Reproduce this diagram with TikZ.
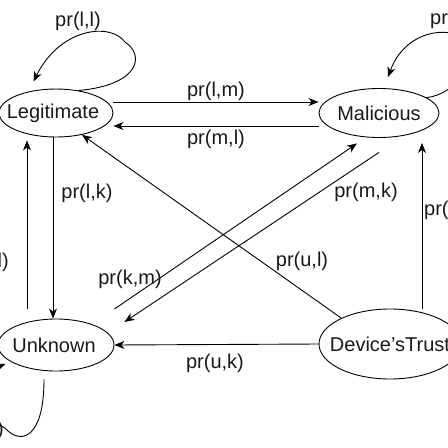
\documentclass[tikz,border=0pt]{standalone}
\usepackage{fontspec}
\setmainfont{Liberation Sans}
\usetikzlibrary{shapes.geometric,arrows.meta}
\begin{document}
\begin{tikzpicture}[x=1pt,y=-1pt,
  every node/.style={font=\fontsize{20}{24}\selectfont, text=black!90},
  state/.style={draw, ellipse, line width=0.9pt, inner sep=0pt},
  arr/.style={line width=0.9pt, -{Stealth[length=10pt,width=8pt,inset=3pt]}},
  lab/.style={anchor=base, inner sep=0pt}]
\useasboundingbox (0,0) rectangle (448,448);
\clip (0,0) rectangle (448,448);
\node[state, minimum width=114pt, minimum height=48pt, label={[xshift=-3pt]center:Legitimate}] (L) at (56,113) {};
\node[state, minimum width=120pt, minimum height=49pt, label={center:Malicious}] (M) at (379,113) {};
\node[state, minimum width=116pt, minimum height=52pt, label={[xshift=-2pt]center:Unknown}] (U) at (56,345) {};
\node[state, minimum width=142pt, minimum height=70pt, label={center:Device'sTrust}] (D) at (390,344) {};

% L <-> M
\draw[arr] ([yshift=11pt]L.east) -- ([yshift=11pt]M.west);
\draw[arr] ([yshift=-13pt]M.west) -- ([yshift=-13pt]L.east);
% L <-> U
\draw[arr] ([xshift=-3pt]L.south) -- ([xshift=-3pt]U.north);
\draw[arr] ([xshift=-29pt,yshift=10pt]U.north) -- ([xshift=-29pt,yshift=-3pt]L.south);
% D -> others
\draw[arr] (D.west) -- (U.east);
\draw[arr] (D.152) -- (L.-40);
\draw[arr] ([xshift=32pt]D.north) -- ([xshift=43pt,yshift=-5pt]M.south);
% U <-> M
\draw[arr] ([yshift=36pt]U.east) -- ([xshift=-22pt,yshift=-5.5pt]M.south);
\draw[arr] ([yshift=-14.5pt]M.south) -- ([xshift=10pt,yshift=23pt]U.east);

% self loops
\draw[arr] (L.45) .. controls (140,85) and (145,55) .. (125,42)
  .. controls (110,22) and (60,28) .. ([yshift=9pt]L.135);
\draw[arr] (M.18) .. controls (455,95) and (480,60) .. (465,40)
  .. controls (450,25) and (405,30) .. ([xshift=9pt,yshift=11pt]M.north);
\draw[arr] ([xshift=-12pt,yshift=-8pt]U.south) .. controls (44,440) and (20,445) .. (5,428)
  .. controls (-30,410) and (-25,375) .. ([xshift=8pt,yshift=-19pt]U.west);

% labels
\node[lab] (l1) at (78,26) {pr(l,l)};
\node[lab, anchor=base west] (l2) at (430,24) {pr(m,m)};
\node[lab] (l3) at (216,96) {pr(l,m)};
\node[lab] (l4) at (216,144) {pr(m,l)};
\node[lab] (l5) at (87,198) {pr(l,k)};
\node[lab, anchor=base east] (l6) at (9,267) {pr(k,l)};
\node[lab] (l7) at (130,284) {pr(k,m)};
\node[lab] (l8) at (366,197) {pr(m,k)};
\node[lab] (l9) at (302,266) {pr(u,l)};
\node[lab] (l10) at (215,368) {pr(u,k)};
\node[lab, anchor=base west] (l11) at (424,215) {pr(u,m)};
\node[lab, anchor=base east] (l12) at (4,435) {pr(k,k)};
\end{tikzpicture}
\end{document}
